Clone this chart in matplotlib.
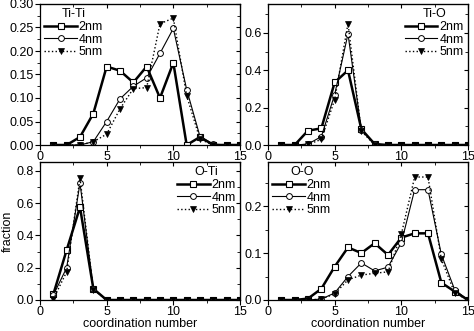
import matplotlib
matplotlib.use("Agg")
from matplotlib import pyplot as plt
from matplotlib.ticker import MultipleLocator

plt.rcParams['font.family'] = ['Liberation Sans', 'DejaVu Sans']
plt.rcParams['font.size'] = 9

cn = list(range(1, 16))

# Ti-Ti
titi_2nm = [0, 0, 0.017, 0.067, 0.167, 0.158, 0.133, 0.167, 0.100, 0.175, 0.0, 0.017, 0.0, 0, 0]
titi_4nm = [0, 0, 0, 0.007, 0.050, 0.098, 0.125, 0.143, 0.195, 0.248, 0.118, 0.018, 0.002, 0, 0]
titi_5nm = [0, 0, 0, 0.007, 0.023, 0.077, 0.120, 0.122, 0.258, 0.270, 0.105, 0.012, 0, 0, 0]

# Ti-O
tio_2nm = [0, 0, 0.077, 0.089, 0.335, 0.400, 0.085, 0.005, 0, 0, 0, 0, 0, 0, 0]
tio_4nm = [0, 0, 0.005, 0.045, 0.270, 0.595, 0.080, 0.005, 0, 0, 0, 0, 0, 0, 0]
tio_5nm = [0, 0, 0.003, 0.030, 0.243, 0.650, 0.075, 0.0, 0, 0, 0, 0, 0, 0, 0]

# O-Ti
oti_2nm = [0.035, 0.31, 0.575, 0.070, 0.0, 0, 0, 0, 0, 0, 0, 0, 0, 0, 0]
oti_4nm = [0.030, 0.20, 0.725, 0.068, 0.0, 0, 0, 0, 0, 0, 0, 0, 0, 0, 0]
oti_5nm = [0.005, 0.175, 0.755, 0.065, 0.0, 0, 0, 0, 0, 0, 0, 0, 0, 0, 0]

# O-O
oo_2nm = [0, 0, 0.003, 0.024, 0.071, 0.112, 0.100, 0.121, 0.096, 0.133, 0.142, 0.142, 0.037, 0.018, 0.0]
oo_4nm = [0, 0, 0, 0.002, 0.015, 0.050, 0.079, 0.062, 0.070, 0.122, 0.235, 0.235, 0.097, 0.022, 0.0]
oo_5nm = [0, 0, 0, 0.002, 0.013, 0.043, 0.053, 0.057, 0.060, 0.140, 0.262, 0.262, 0.087, 0.015, 0.0]

panels = [
    ("Ti-Ti", [titi_2nm, titi_4nm, titi_5nm], 0.30, 0.05, "upper left"),
    ("Ti-O", [tio_2nm, tio_4nm, tio_5nm], 0.755, 0.2, "upper right"),
    ("O-Ti", [oti_2nm, oti_4nm, oti_5nm], 0.855, 0.2, "upper right"),
    ("O-O", [oo_2nm, oo_4nm, oo_5nm], 0.294, 0.1, "upper left"),
]
labels = ["2nm", "4nm", "5nm"]
W, H = 474, 331
boxes = [(40, 4, 240, 145), (268, 4, 468, 145), (40, 162, 240, 300), (268, 162, 468, 300)]

fig = plt.figure(figsize=(4.74, 3.31), dpi=100)
for (name, series, ymax, ystep, loc), (x0, y0, x1, y1) in zip(panels, boxes):
    ax = fig.add_axes([x0 / W, 1 - y1 / H, (x1 - x0) / W, (y1 - y0) / H])
    ax.plot(cn, series[0], '-s', color='black', lw=1.8, ms=4.0, mfc='white', mew=0.8, label=labels[0])
    ax.plot(cn, series[1], '-o', color='black', lw=0.8, ms=4.2, mfc='white', mew=0.7, label=labels[1])
    ax.plot(cn, series[2], ':v', color='black', lw=1.0, ms=4.8, mfc='black', mew=0.5, label=labels[2])
    ax.set_xlim(0, 15)
    ax.set_ylim(0, ymax)
    ax.xaxis.set_major_locator(MultipleLocator(5))
    ax.xaxis.set_minor_locator(MultipleLocator(2.5))
    ax.yaxis.set_major_locator(MultipleLocator(ystep))
    ax.yaxis.set_minor_locator(MultipleLocator(ystep / 2))
    if name == "Ti-Ti":
        ax.yaxis.set_major_formatter(lambda v, p: f"{v:.2f}")
    else:
        ax.yaxis.set_major_formatter(lambda v, p: f"{v:.1f}")
    ax.tick_params(which='both', direction='out', top=False, right=False, pad=1)
    ax.tick_params(which='major', length=3.5, width=0.8)
    ax.tick_params(which='minor', length=2, width=0.6)
    for side in ('top', 'right'):
        sec = ax.secondary_xaxis('top') if side == 'top' else ax.secondary_yaxis('right')
        axis = sec.xaxis if side == 'top' else sec.yaxis
        axis.set_major_locator(MultipleLocator(5 if side == 'top' else ystep))
        axis.set_minor_locator(MultipleLocator(2.5 if side == 'top' else ystep / 2))
        sec.tick_params(which='both', direction='in', labeltop=False, labelright=False)
        sec.tick_params(which='major', length=3, width=0.8)
        sec.tick_params(which='minor', length=2, width=0.6)
    for s in ax.spines.values():
        s.set_linewidth(0.9)
    ax.legend(title=name, loc=loc, frameon=False, fontsize=9, title_fontsize=9,
              handlelength=2.6, handletextpad=0.15, labelspacing=0.05,
              borderaxespad=0.15, borderpad=0.2)
    if y0 > 150:
        ax.set_xlabel("coordination number", labelpad=0)
    if name == "O-Ti":
        ax.set_ylabel("fraction", labelpad=2)

fig.savefig("out.png", dpi=100)
